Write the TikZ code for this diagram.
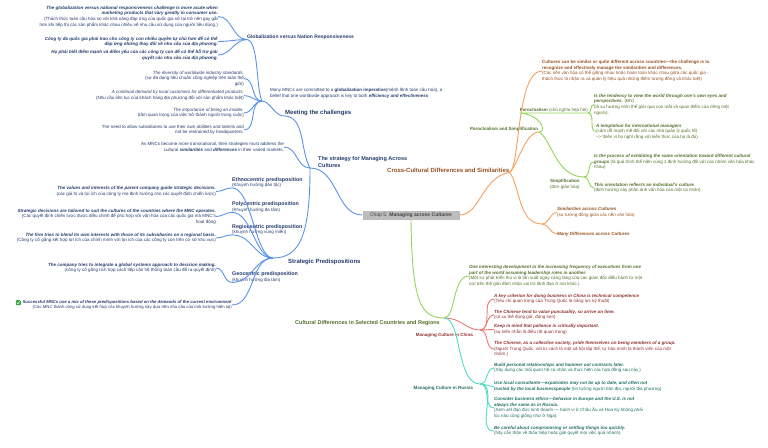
\documentclass[tikz,border=0pt]{standalone}
\usepackage{fontspec}
\setmainfont{Liberation Sans}
\usetikzlibrary{positioning,calc}
\definecolor{bluel}{HTML}{5B93E8}
\definecolor{bluet}{HTML}{233A6B}
\definecolor{orangel}{HTML}{F5A05C}
\definecolor{oranget}{HTML}{96501F}
\definecolor{greenl}{HTML}{93D45A}
\definecolor{greent}{HTML}{50702A}
\definecolor{redl}{HTML}{EB7A72}
\definecolor{redt}{HTML}{8E2E2E}
\definecolor{teall}{HTML}{52DCC3}
\definecolor{tealt}{HTML}{1F6E62}
\definecolor{chapfill}{HTML}{BDBDBD}
\newcommand{\bfit}[1]{\textbf{\textit{#1}}}
\newcommand{\lab}[2]{{\fontsize{5.3}{5.8}\selectfont\textbf{#1}}\\#2}

\begin{document}
\begin{tikzpicture}[x=1pt,y=-1pt,
  every node/.style={inner sep=0pt},
  leaf/.style={font=\fontsize{4.5}{5.6}\selectfont},
  lleaf/.style={leaf,anchor=east,align=right},
  rleaf/.style={leaf,anchor=west,align=left},
  main/.style={font=\fontsize{5.5}{6.4}\selectfont\bfseries},
  topic/.style={font=\fontsize{6}{7}\selectfont\bfseries},
  sub/.style={font=\fontsize{4.5}{5.6}\selectfont,align=left},
  bl/.style={draw=bluel,line width=0.9pt},
  ol/.style={draw=orangel,line width=0.9pt},
  gl/.style={draw=greenl,line width=0.9pt},
  rl/.style={draw=redl,line width=0.9pt},
  tl/.style={draw=teall,line width=0.9pt}]
\useasboundingbox (0,0) rectangle (768,447);

% central topic
\node[fill=chapfill,minimum width=97pt,minimum height=9pt,font=\fontsize{5}{6}\selectfont,text=black!75] (chap) at (411,215) {Chap 5. \textbf{Managing across Cultures}};

% ---- left branch
\node[main,text=bluet,anchor=west,align=left] (strat) at (318,162) {The strategy for Managing Across\\Cultures};
\coordinate (sj) at (310,168);
\node[topic,text=bluet,anchor=west] (meet) at (285,113) {Meeting the challenges};
\coordinate (mj) at (262,101);
\node[text=bluet,anchor=west,font=\fontsize{5}{6}\selectfont\bfseries] (glob) at (247,37) {Globalization versus Nation Responsiveness};

\node[lleaf,text=bluet] (g1) at (218,16.5) {\bfit{The globalization versus national responsiveness challenge is more acute when}\\\bfit{marketing products that vary greatly in consumer use.}\\(Thách thức toàn cầu hóa so với khả năng đáp ứng của quốc gia sở tại trở nên gay gắt\\hơn khi tiếp thị các sản phẩm khác nhau nhiều về nhu cầu sử dụng của người tiêu dùng.)};
\node[lleaf,text=bluet] (g2) at (218,41.5) {\bfit{Công ty đa quốc gia phải trao cho công ty con nhiều quyền tự chủ hơn để có thể}\\\bfit{đáp ứng những thay đổi về nhu cầu của địa phương.}};
\node[lleaf,text=bluet] (g3) at (218,55) {\bfit{Họ phải biết điểm mạnh và điểm yếu của các công ty con để có thể hỗ trợ giải}\\\bfit{quyết các nhu cầu của địa phương.}};

\node[lleaf,text=bluet] (m1) at (244,78.5) {\textit{The diversity of worldwide industry standards.}\\(sự đa dạng tiêu chuẩn công nghiệp trên toàn thế\\giới)};
\node[lleaf,text=bluet] (m2) at (244,95.5) {\textit{A continual demand by local customers for differentiated products.}\\(Nhu cầu liên tục của khách hàng địa phương đối với sản phẩm khác biệt)};
\node[lleaf,text=bluet] (m3) at (244,113) {\textit{The importance of being an insider.}\\(tầm quan trọng của việc trở thành người trong cuộc)};
\node[lleaf,text=bluet] (m4) at (244,130) {The need to allow subsidiaries to use their own abilities and talents and\\not be restrained by headquarters.};
\node[rleaf,text=bluet] (mnc) at (270,93.5) {Many MNCs are committed to a \textbf{globalization imperative}(mệnh lệnh toàn cầu hóa), a\\belief that one worldwide approach is key to both \bfit{efficiency and effectiveness}};
\node[lleaf,text=bluet] (asmnc) at (284,147) {As MNCs become more transnational, their strategies must address the\\cultural \bfit{similarities} and \bfit{differences} in their varied markets.};

\node[topic,text=bluet,anchor=west] (pred) at (288,262) {Strategic Predispositions};
\coordinate (pj) at (273,258);
\node[sub,text=bluet,anchor=west] (ethno) at (232,182.5) {\lab{Ethnocentric predisposition}{(Khuynh hướng dân tộc)}};
\node[sub,text=bluet,anchor=west] (poly) at (232,207) {\lab{Polycentric predisposition}{(Khuynh hướng đa tâm)}};
\node[sub,text=bluet,anchor=west] (regio) at (232,229.5) {\lab{Regiocentric predisposition}{(khuynh hướng vùng miền)}};
\node[sub,text=bluet,anchor=west] (geo) at (232,277) {\lab{Geocentric predisposition}{(khuynh hướng địa tâm)}};

\node[lleaf,text=bluet] (ethnoL) at (216,191.5) {\bfit{The values and interests of the parent company guide strategic decisions.}\\(các giá trị và lợi ích của công ty mẹ định hướng cho các quyết định chiến lược)};
\node[lleaf,text=bluet] (polyL) at (216,216.5) {\bfit{Strategic decisions are tailored to suit the cultures of the countries where the MNC operates.}\\(Các quyết định chiến lược được điều chỉnh để phù hợp với văn hóa của các quốc gia mà MNC's\\hoạt động};
\node[lleaf,text=bluet] (regioL) at (216,238) {\bfit{The firm tries to blend its own interests with those of its subsidiaries on a regional basis.}\\(Công ty cố gắng kết hợp lợi ích của chính mình với lợi ích của các công ty con trên cơ sở khu vực)};
\node[lleaf,text=bluet] (geoL) at (216,268) {\bfit{The company tries to integrate a global systems approach to decision making.}\\(công ty cố gắng tích hợp cách tiếp cận hệ thống toàn cầu để ra quyết định)};
\node[lleaf,text=bluet,font=\fontsize{4.25}{5}\selectfont] (succ) at (232,305) {\bfit{Successful MNCs use a mix of these predispositions based on the demands of the current environment}\\(Các MNC thành công sử dụng kết hợp các khuynh hướng này dựa trên nhu cầu của môi trường hiện tại)};
\node[fill=green!55!black!80,rounded corners=0.8pt,minimum size=5pt,anchor=north east] (chk) at ([xshift=-1.5pt,yshift=0.3pt]succ.north west) {};
\draw[white,line width=0.6pt] (chk.center) ++(-1.6,0) -- ++(1.1,1.1) -- ++(2,-2.4);

\draw[bl] (sj) .. controls (338,168) and (336,215) .. (chap.west);
\draw[bl] (sj) .. controls (300,150) and (305,117) .. (meet.south west);
\draw[bl] (meet.south west) .. controls (275,117) and (270,101) .. (mj);
\draw[bl] (mj) .. controls (256,90) and (259,41) .. (glob.south west);
\foreach \n in {g1,g2,g3} \draw[bl] (\n.east) to[out=0,in=180] (glob.south west);
\foreach \n in {m1,m2,m3,m4} \draw[bl] (\n.east) to[out=0,in=180] (mj);
\draw[bl] (asmnc.east) to[out=0,in=180] (sj);
\draw[bl] (sj) .. controls (310,235) and (300,258) .. (pj);
\foreach \n in {ethno,poly,regio,geo} {
  \draw[bl] (pj) .. controls (255,258) and (252,0|-\n.south west) .. (\n.south west);
  \draw[bl] (\n.south west) to[out=180,in=0] (\n L.east);
}
\draw[bl] (pj) .. controls (250,258) and (255,305) .. (succ.east);

% ---- right branch
\node[text=oranget,anchor=west,font=\fontsize{6}{7}\selectfont\bfseries] (cross) at (387,170) {Cross-Cultural Differences and Similarities};
\coordinate (cj) at (cross.south east);
\node[rleaf,text=oranget] (csim) at (542,71) {\textbf{Cultures can be similar or quite different across countries—the challenge is to}\\\textbf{recognize and effectively manage the similarities and differences.}\\(Các nền văn hóa có thể giống nhau hoặc hoàn toàn khác nhau giữa các quốc gia -\\thách thức là nhận ra và quản lý hiệu quả những điểm tương đồng và khác biệt)};
\coordinate (oj) at (542,224);
\node[rleaf,text=oranget] (simil) at (557,212.5) {\bfit{Similarities across Cultures}\\(sự tương đồng giữa các nền văn hóa)};
\node[rleaf,text=oranget] (many) at (557,234) {\bfit{Many Differences across Cultures}};

\node[sub,text=greent,anchor=west] (ps) at (470,129) {\textbf{Parochialism and Simplification}};
\coordinate (psj) at (539,132);
\node[sub,text=greent,anchor=south east] (paro) at (588,113) {\textbf{Parochialism} (chủ nghĩa hẹp hòi)};
\node[sub,text=greent,anchor=north west] (simp) at (550,179) {\textbf{Simplification}\\(đơn giản hóa)};
\coordinate (smj) at (584,177);
\node[rleaf,text=greent] (p1) at (594,104.5) {\bfit{Is the tendency to view the world through one's own eyes and}\\\bfit{perspectives.} (ĐN)\\(là xu hướng nhìn thế giới qua con mắt và quan điểm của riêng một\\người).};
\node[rleaf,text=greent] (p2) at (596,131.5) {\bfit{A temptation for international managers}\\(cám dỗ mạnh mẽ đối với các nhà quản lý quốc tế)\\--> thiên vị họ nghĩ rằng với kiến thức của họ là đủ)};
\node[rleaf,text=greent] (s1) at (594,162) {\bfit{Is the process of exhibiting the same orientation toward different cultural}\\\bfit{groups} (là quá trình thể hiện cùng 1 định hướng đối với các nhóm văn hóa khác\\nhau)};
\node[rleaf,text=greent] (s2) at (594,188) {\bfit{This orientation reflects an individual's culture.}\\(định hướng này phản ánh văn hóa của một cá nhân)};

\draw[ol] (chap.east) .. controls (480,215) and (482,177) .. (cj);
\draw[ol] (cj) .. controls (520,170) and (516,71) .. (csim.west);
\draw[ol] (cj) .. controls (520,185) and (518,224) .. (oj);
\draw[ol] (cj) .. controls (518,165) and (525,132) .. (psj);
\draw[ol] (oj) to[out=0,in=180] (simil.west);
\draw[ol] (oj) to[out=0,in=180] (many.west);
\draw[gl] (psj) .. controls (548,132) and (540,114) .. (paro.south west) -- (paro.south east);
\draw[gl] (paro.south east) to[out=0,in=180] (p1.west);
\draw[gl] (paro.south east) to[out=0,in=180] (p2.west);
\draw[gl] (psj) .. controls (552,140) and (556,177) .. (smj);
\draw[gl] (smj) to[out=0,in=180] (s1.west);
\draw[gl] (smj) to[out=0,in=180] (s2.west);

% ---- bottom branch
\node[main,text=greent,anchor=east] (cdiff) at (440,323) {Cultural Differences in Selected Countries and Regions};
\coordinate (dj) at (444,318);
\node[rleaf,text=greent] (dev) at (469,276) {\bfit{One interesting development in the increasing frequency of executives from one}\\\bfit{part of the world assuming leadership roles in another.}\\(Một sự phát triển thú vị là tần suất ngày càng tăng của các giám đốc điều hành từ một\\nơi trên thế giới đảm nhận vai trò lãnh đạo ở nơi khác.)};
\node[text=redt,anchor=east,font=\fontsize{4.5}{5.5}\selectfont\bfseries] (china) at (473,335) {Managing Culture in China};
\coordinate (chj) at (480,330);
\node[rleaf,text=redt] (c1) at (494,299) {\bfit{A key criterion for doing business in China is technical competence}\\(Tiêu chí quan trọng của Trung Quốc là năng lực kỹ thuật)};
\node[rleaf,text=redt] (c2) at (494,315) {\bfit{The Chinese tend to value punctuality, so arrive on time.}\\(có xu thế đúng giờ, đúng hẹn)};
\node[rleaf,text=redt] (c3) at (494,329.5) {\bfit{Keep in mind that patience is critically important.}\\(sự kiên nhẫn là điều rất quan trọng)};
\node[rleaf,text=redt] (c4) at (494,349) {\bfit{The Chinese, as a collective society, pride themselves on being members of a group.}\\(Người Trung Quốc, với tư cách là một xã hội tập thể, tự hào mình là thành viên của một\\nhóm.)};
\node[text=tealt,anchor=east,font=\fontsize{4.5}{5.5}\selectfont\bfseries] (russia) at (473,388) {Managing Culture in Russia};
\coordinate (ruj) at (480,384);
\node[rleaf,text=tealt] (r1) at (494,368) {\bfit{Build personal relationships and hammer out contracts later.}\\(Xây dựng các mối quan hệ cá nhân và thực hiện các hợp đồng sau này.)};
\node[rleaf,text=tealt] (r2) at (494,386.5) {\bfit{Use local consultants—expatriates may not be up to date, and often not}\\\bfit{trusted by the local businesspeople} (tin tưởng người bản địa, người địa phương)};
\node[rleaf,text=tealt] (r3) at (494,408) {\bfit{Consider business ethics—behavior in Europe and the U.S. is not}\\\bfit{always the same as in Russia.}\\(Xem xét đạo đức kinh doanh — hành vi ở Châu Âu và Hoa Kỳ không phải\\lúc nào cũng giống như ở Nga).};
\node[rleaf,text=tealt] (r4) at (494,431) {\bfit{Be careful about compromising or settling things too quickly.}\\(hãy cẩn thận về thỏa hiệp hoặc giải quyết mọi việc quá nhanh)};

\draw[gl] (chap.south) .. controls (412,300) and (420,318) .. (dj);
\draw[gl] (dj) .. controls (456,318) and (452,276) .. (dev.west);
\draw[rl] (dj) .. controls (462,318) and (466,330) .. (chj);
\draw[tl] (dj) .. controls (462,318) and (456,384) .. (ruj);
\foreach \n in {c1,c2,c3,c4} \draw[rl] (chj) to[out=0,in=180] (\n.west);
\foreach \n in {r1,r2,r3,r4} \draw[tl] (ruj) to[out=0,in=180] (\n.west);
\end{tikzpicture}
\end{document}
